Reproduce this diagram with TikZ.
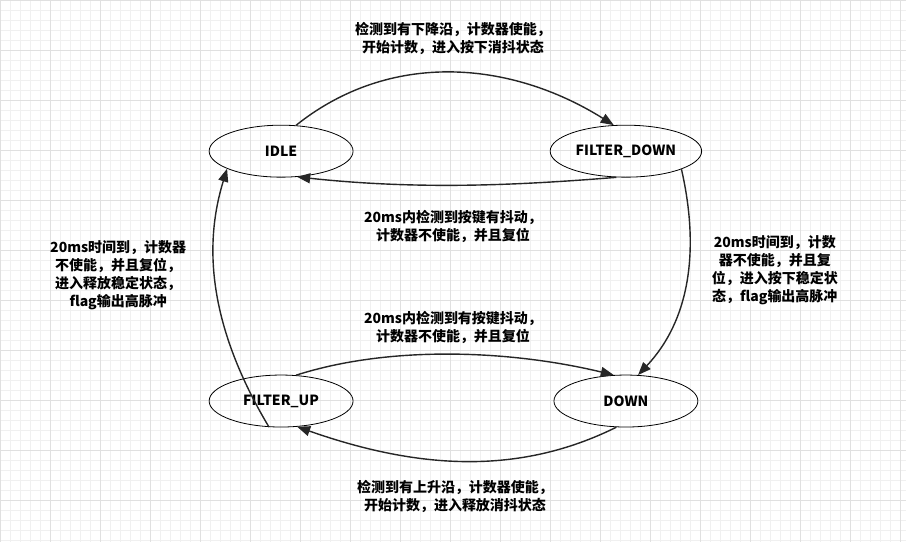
\documentclass[tikz,border=0pt]{standalone}
\usepackage{fontspec}
\newfontfamily\cjk{Noto Sans CJK SC}
\usetikzlibrary{arrows.meta,shapes,positioning}

\begin{document}
\begin{tikzpicture}[x=1pt,y=-1pt]
  \tikzset{
    state/.style={
      draw,
      thick,
      ellipse,
      minimum width=144pt,
      minimum height=52pt,
      font=\cjk\bfseries\fontsize{14}{17}\selectfont
    },
    line/.style={
      draw,
      line width=1.4pt,
      -{Triangle[length=13pt,width=10pt]},
      color=black!85
    },
    label/.style={
      align=center,
      font=\cjk\bfseries\fontsize{14}{18}\selectfont
    }
  }

  % grid background
  \fill[white] (0,0) rectangle (906,542);
  \foreach \x in {0,10,...,900}
    \draw[black!6,line width=0.5pt] (\x,0) -- (\x,542);
  \foreach \y in {0,10,...,540}
    \draw[black!6,line width=0.5pt] (0,\y) -- (906,\y);
  \foreach \x in {0,50,...,900}
    \draw[black!12,line width=0.5pt] (\x,0) -- (\x,542);
  \foreach \y in {0,50,...,500}
    \draw[black!12,line width=0.5pt] (0,\y) -- (906,\y);
  \useasboundingbox (0,0) rectangle (906,542);

  \node[state] (idle) at (281,151) {IDLE};
  \node[state] (fdown) at (626,151) {FILTER\_DOWN};
  \node[state] (fup) at (281,401) {FILTER\_UP};
  \node[state] (down) at (626,401) {DOWN};

  \path[line] (idle.60) .. controls (390,50) and (510,60) .. (fdown.115);
  \path[line] (fdown.-110) .. controls (520,185) and (420,190) .. (idle.-58);
  \path[line] (fdown.-18) .. controls (700,250) and (690,320) .. (down.65);
  \path[line] (down.-110) .. controls (520,475) and (420,470) .. (fup.-58);
  \path[line] (fup.60) .. controls (390,345) and (510,350) .. (down.115);
  \path[line] (fup.-115) .. controls (205,320) and (205,240) .. (idle.-162);

  \node[label] (l1) at (453,38) {检测到有下降沿，计数器使能，\\开始计数，进入按下消抖状态};
  \node[label] (l2) at (453,226) {20ms内检测到按键有抖动，\\计数器不使能，并且复位};
  \node[label] (l3) at (775,270) {20ms时间到，计数\\器不使能，并且复\\位，进入按下稳定状\\态，flag输出高脉冲};
  \node[label] (l4) at (118,275) {20ms时间到，计数器\\不使能，并且复位，\\进入释放稳定状态，\\flag输出高脉冲};
  \node[label] (l5) at (453,327) {20ms内检测到有按键抖动，\\计数器不使能，并且复位};
  \node[label] (l6) at (455,497) {检测到有上升沿，计数器使能，\\开始计数，进入释放消抖状态};
\end{tikzpicture}
\end{document}
